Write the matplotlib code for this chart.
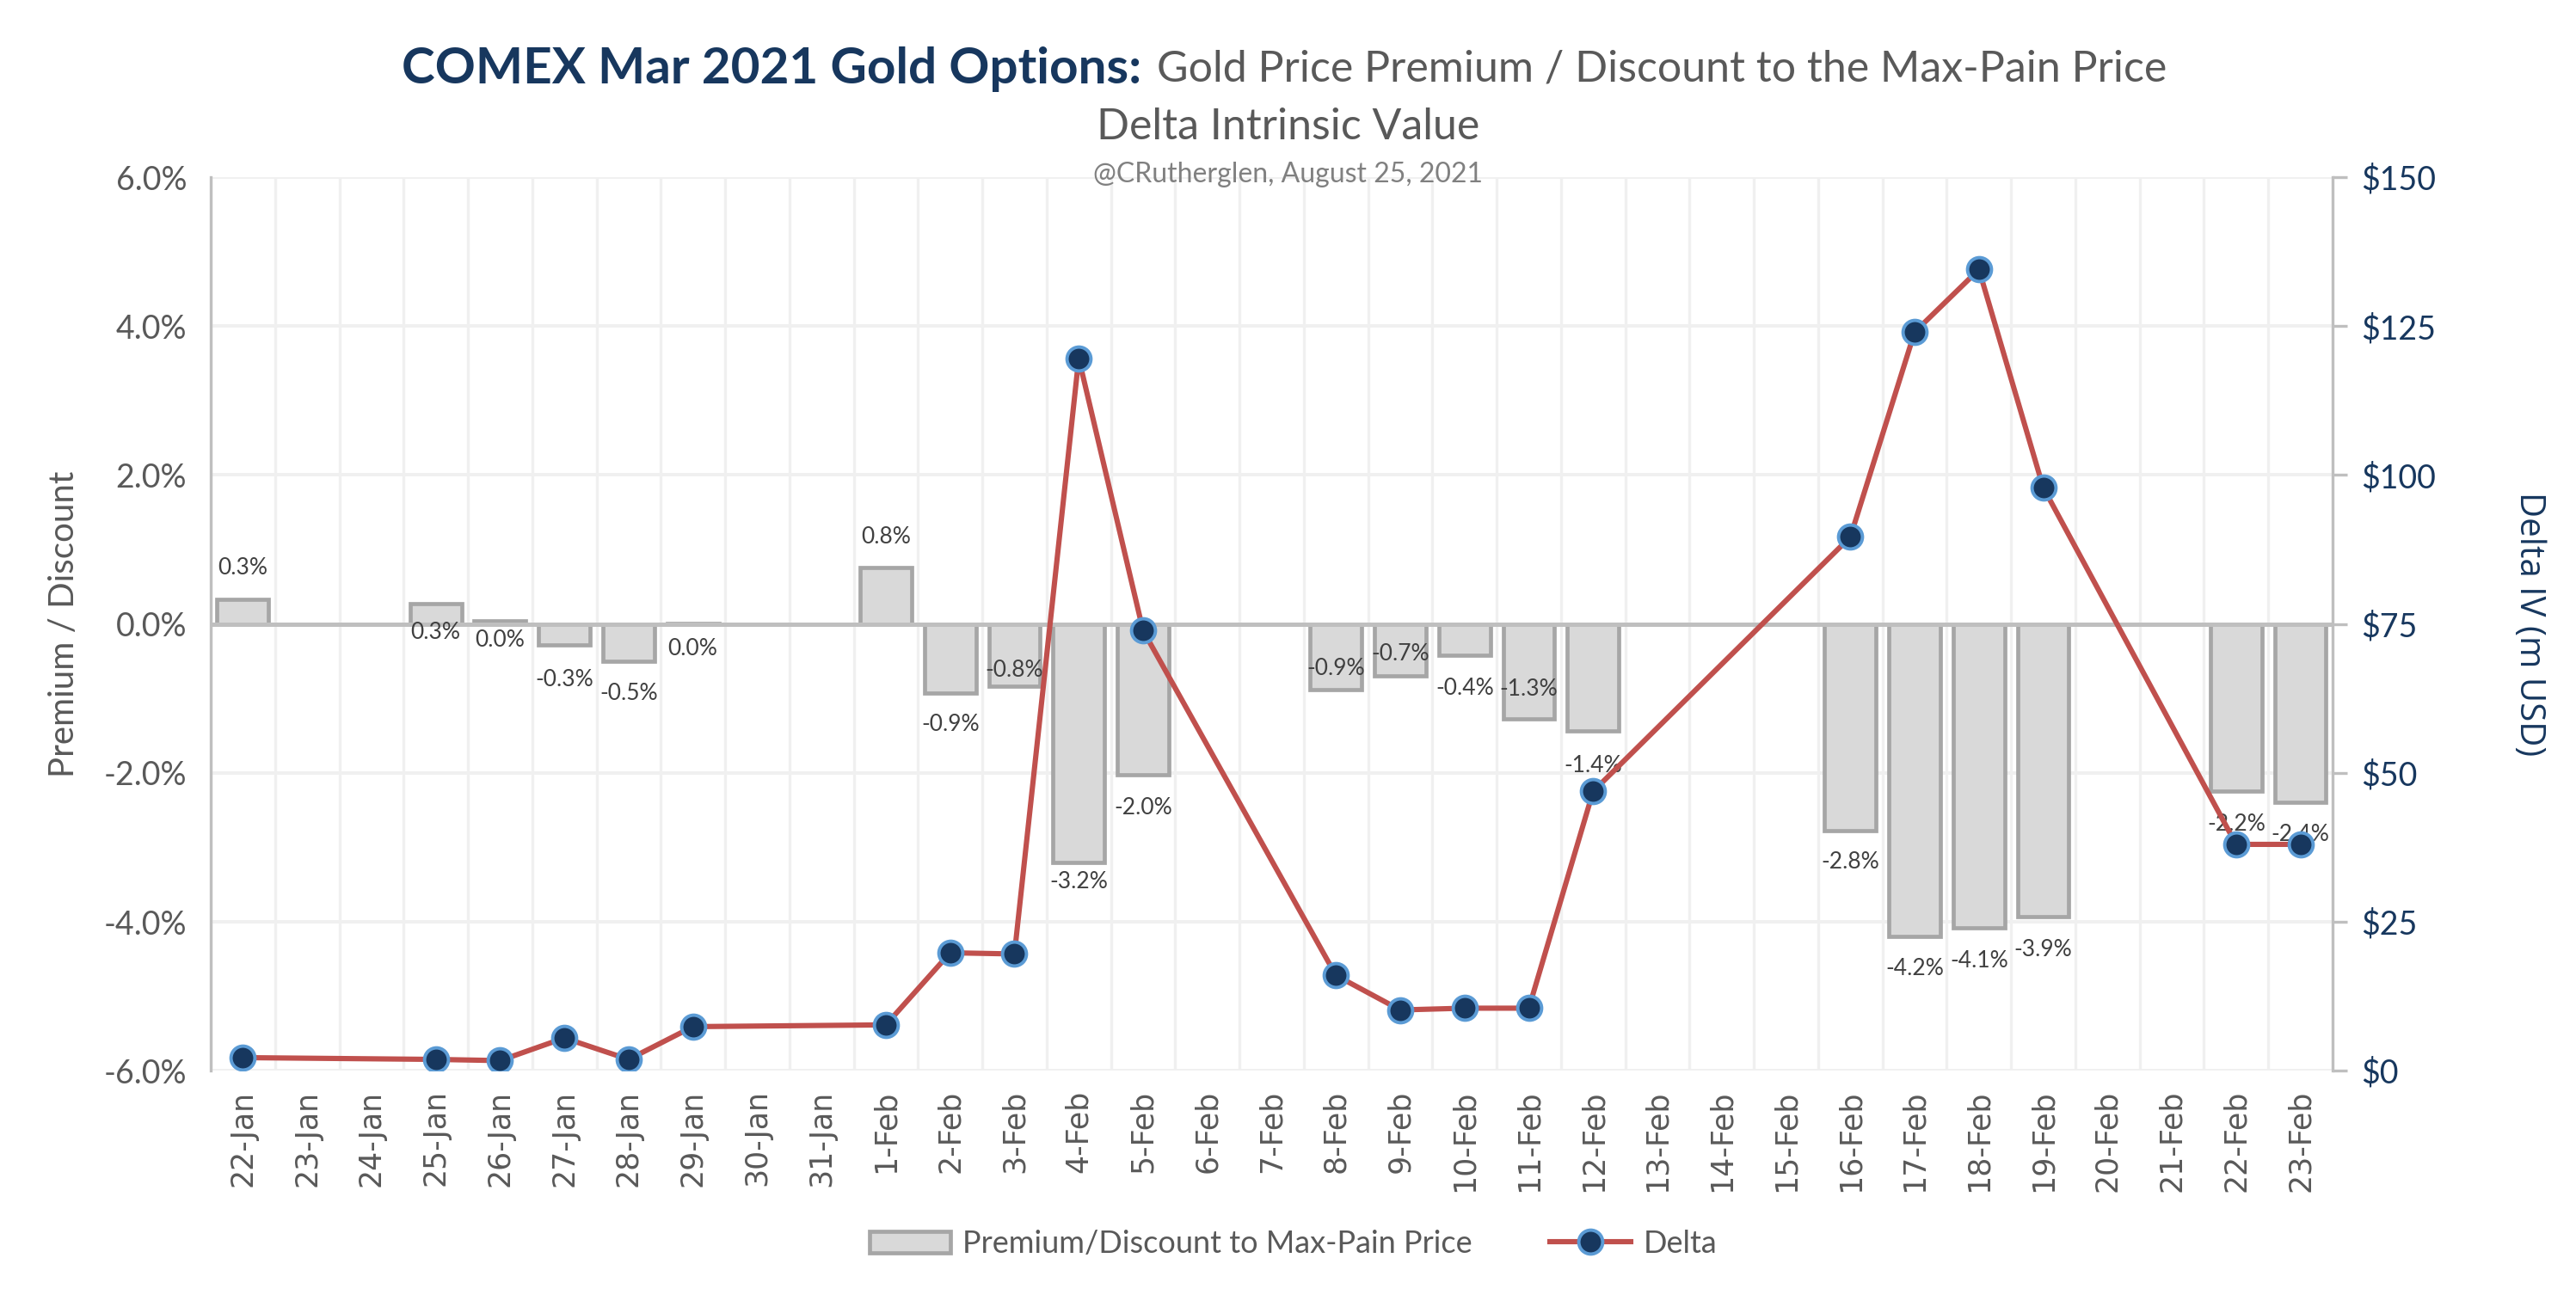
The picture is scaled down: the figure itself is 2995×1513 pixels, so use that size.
import matplotlib
matplotlib.use("Agg")
import matplotlib.pyplot as plt
import numpy as np

# Categories (one per calendar day)
dates = ["22-Jan", "23-Jan", "24-Jan", "25-Jan", "26-Jan", "27-Jan", "28-Jan", "29-Jan",
         "30-Jan", "31-Jan", "1-Feb", "2-Feb", "3-Feb", "4-Feb", "5-Feb", "6-Feb",
         "7-Feb", "8-Feb", "9-Feb", "10-Feb", "11-Feb", "12-Feb", "13-Feb", "14-Feb",
         "15-Feb", "16-Feb", "17-Feb", "18-Feb", "19-Feb", "20-Feb", "21-Feb", "22-Feb",
         "23-Feb"]

# Gold price premium / discount to max-pain (%), None = no trading day
premium = [0.33, None, None, 0.27, 0.04, -0.28, -0.50, 0.01, None, None, 0.76, -0.93,
           -0.84, -3.20, -2.03, None, None, -0.88, -0.70, -0.42, -1.28, -1.44, None, None,
           None, -2.78, -4.20, -4.08, -3.93, None, None, -2.24, -2.40]

# where each data label sits (left axis units)
label_pos = [0.75, None, None, -0.11, -0.22, -0.75, -0.93, -0.33, None, None, 1.17, -1.35,
             -0.62, -3.46, -2.47, None, None, -0.60, -0.40, -0.86, -0.88, -1.90, None, None,
             None, -3.20, -4.63, -4.52, -4.37, None, None, -2.69, -2.83]

# Delta intrinsic value (m USD)
delta = [2.2, None, None, 1.9, 1.7, 5.5, 1.9, 7.4, None, None, 7.7, 19.8, 19.6, 119.6,
         73.9, None, None, 16.0, 10.2, 10.5, 10.5, 46.9, None, None, None, 89.6, 124.0,
         134.5, 97.9, None, None, 38.0, 38.0]

pct_ticks = [-6, -4, -2, 0, 2, 4, 6]
usd_ticks = [0, 25, 50, 75, 100, 125, 150]

NAVY = "#17375E"
GRAY_TXT = "#595959"
FONT = "Lato"

fig = plt.figure(figsize=(14.975, 7.565), dpi=200)
ax = fig.add_axes([0.0818, 0.177, 0.8237, 0.6868])
ax2 = ax.twinx()

x = np.arange(len(dates))

# bars
bx = [i for i in x if premium[i] is not None]
bv = [premium[i] for i in bx]
bars = ax.bar(bx, bv, width=0.8, color="#D9D9D9", edgecolor="#A6A6A6", linewidth=1.7,
              zorder=3, label="Premium/Discount to Max-Pain Price")

for i in bx:
    ax.text(i, label_pos[i], "%.1f%%" % premium[i], ha="center", va="center",
            fontsize=9.5, color="#404040", family=FONT, zorder=6)

# zero line
ax.axhline(0, color="#BFBFBF", linewidth=1.8, zorder=4)

# line series
lx = [i for i in x if delta[i] is not None]
lv = [delta[i] for i in lx]
line, = ax2.plot(lx, lv, color="#C0504D", linewidth=2.2, marker="o", markersize=10,
                 markerfacecolor=NAVY, markeredgecolor="#5B9BD5", markeredgewidth=1.4,
                 zorder=5, label="Delta")

# axes limits and ticks
ax.set_xlim(-0.5, len(dates) - 0.5)
ax.set_ylim(-6, 6)
ax.set_yticks(pct_ticks)
ax.set_yticklabels(["%.1f%%" % t for t in pct_ticks], family=FONT, fontsize=13.5,
                   color=GRAY_TXT)
ax2.set_ylim(0, 150)
ax2.set_yticks(usd_ticks)
ax2.set_yticklabels(["$%d" % t for t in usd_ticks], family=FONT, fontsize=13.5, color=NAVY)

ax.set_xticks(x)
ax.set_xticklabels(dates, rotation=90, fontsize=12.5, color=GRAY_TXT, family="DejaVu Sans")
ax.tick_params(axis="x", length=0, pad=8)
ax.tick_params(axis="y", length=0, pad=10)
ax2.tick_params(axis="y", length=6, width=1.2, color="#BFBFBF", pad=6)

# grid
for t in pct_ticks:
    if t != 0:
        ax.axhline(t, color="#F0F0F0", linewidth=1.4, zorder=0)
for b in np.arange(len(dates) + 1) - 0.5:
    ax.axvline(b, color="#F0F0F0", linewidth=1.2, zorder=0)

for sp in ["top", "bottom"]:
    ax.spines[sp].set_visible(False)
    ax2.spines[sp].set_visible(False)
ax.spines["left"].set_color("#BFBFBF")
ax.spines["left"].set_linewidth(1.2)
ax2.spines["left"].set_visible(False)
ax2.spines["right"].set_color("#BFBFBF")
ax2.spines["right"].set_linewidth(1.2)
ax.spines["right"].set_visible(False)

ax.set_ylabel("Premium / Discount", family=FONT, fontsize=14.5, color=GRAY_TXT, labelpad=10)
ax2.set_ylabel("Delta IV (m USD)", family="Open Sans", fontsize=14.5, color=NAVY,
               rotation=270, labelpad=46)

# titles
fig.text(0.443, 0.947, "COMEX Mar 2021 Gold Options:", ha="right", va="center",
         family=FONT, fontsize=21, fontweight="bold", color=NAVY)
fig.text(0.449, 0.947, "Gold Price Premium / Discount to the Max-Pain Price", ha="left",
         va="center", family=FONT, fontsize=18, color=GRAY_TXT)
fig.text(0.5, 0.902, "Delta Intrinsic Value", ha="center", va="center", family=FONT,
         fontsize=18, color=GRAY_TXT)
fig.text(0.5, 0.866, "@CRutherglen, August 25, 2021", ha="center", va="center",
         family=FONT, fontsize=11.5, color="#808080")

# legend
leg = fig.legend(handles=[bars, line], loc="center", bbox_to_anchor=(0.502, 0.044), ncol=2,
                 frameon=False, prop={"family": FONT, "size": 13}, handlelength=2.6,
                 columnspacing=2.5, handletextpad=0.4)
for t in leg.get_texts():
    t.set_color(GRAY_TXT)

fig.savefig("out.png", dpi=200)
